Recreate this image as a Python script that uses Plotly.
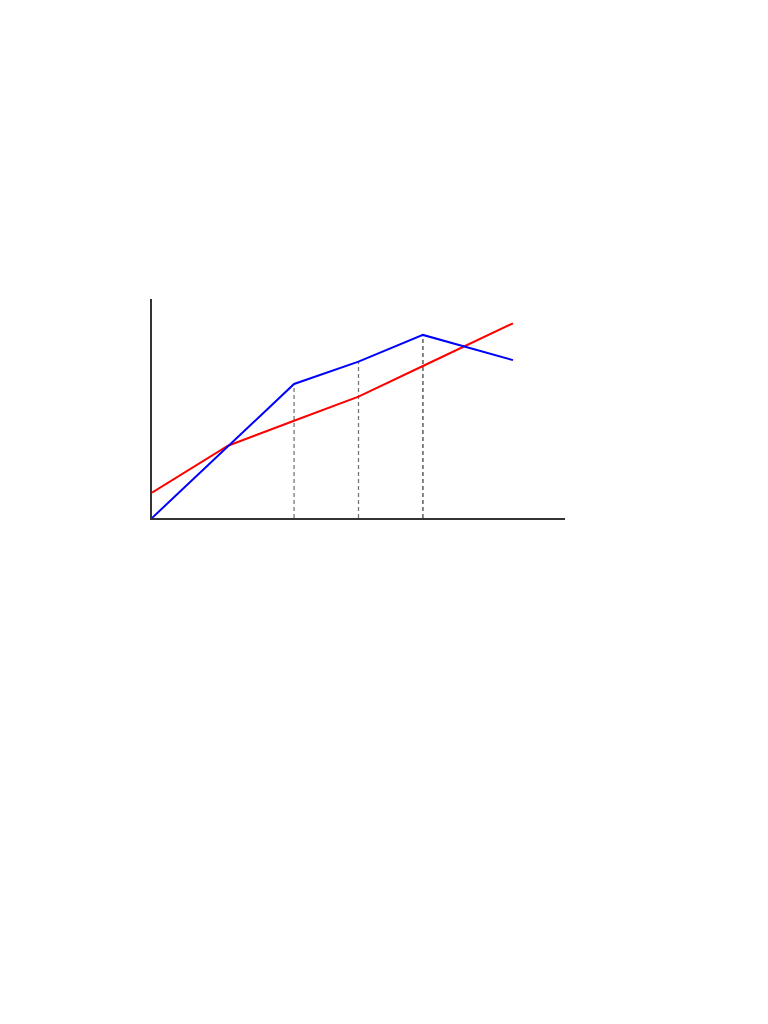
import plotly.graph_objects as go

# Data (arbitrary units, 0-100 on both axes)
blue_x = [0, 34.4, 50, 65.6, 87.4]
blue_y = [0, 61.2, 71.4, 83.6, 72.1]
red_x = [0, 18.4, 34.4, 50, 65.6, 87.4]
red_y = [11.6, 33.0, 44.4, 55.4, 69.4, 88.9]
drop_x = [34.4, 50, 65.6]
drop_y = [61.2, 71.4, 83.6]

fig = go.Figure()
for i, (dx, dy) in enumerate(zip(drop_x, drop_y)):
    fig.add_trace(go.Scatter(
        x=[dx, dx], y=[0, dy], mode="lines",
        line=dict(color="#777777" if i < 2 else "#444444", width=1.3, dash="4px,3px"),
        showlegend=False, hoverinfo="skip"))
fig.add_trace(go.Scatter(x=red_x, y=red_y, mode="lines",
                         line=dict(color="#ff0000", width=2), showlegend=False))
fig.add_trace(go.Scatter(x=blue_x, y=blue_y, mode="lines",
                         line=dict(color="#0000ff", width=2), showlegend=False))

fig.update_layout(
    width=768, height=1024,
    margin=dict(l=144, r=211, t=291, b=514),
    paper_bgcolor="white", plot_bgcolor="white",
    xaxis=dict(range=[0, 100], showgrid=False, zeroline=False, showticklabels=False,
               ticks="", showline=True, linecolor="#333333", linewidth=1.5),
    yaxis=dict(range=[0, 100], showgrid=False, zeroline=False, showticklabels=False,
               ticks="", showline=True, linecolor="#333333", linewidth=1.5),
)
fig.write_html("out.html")
